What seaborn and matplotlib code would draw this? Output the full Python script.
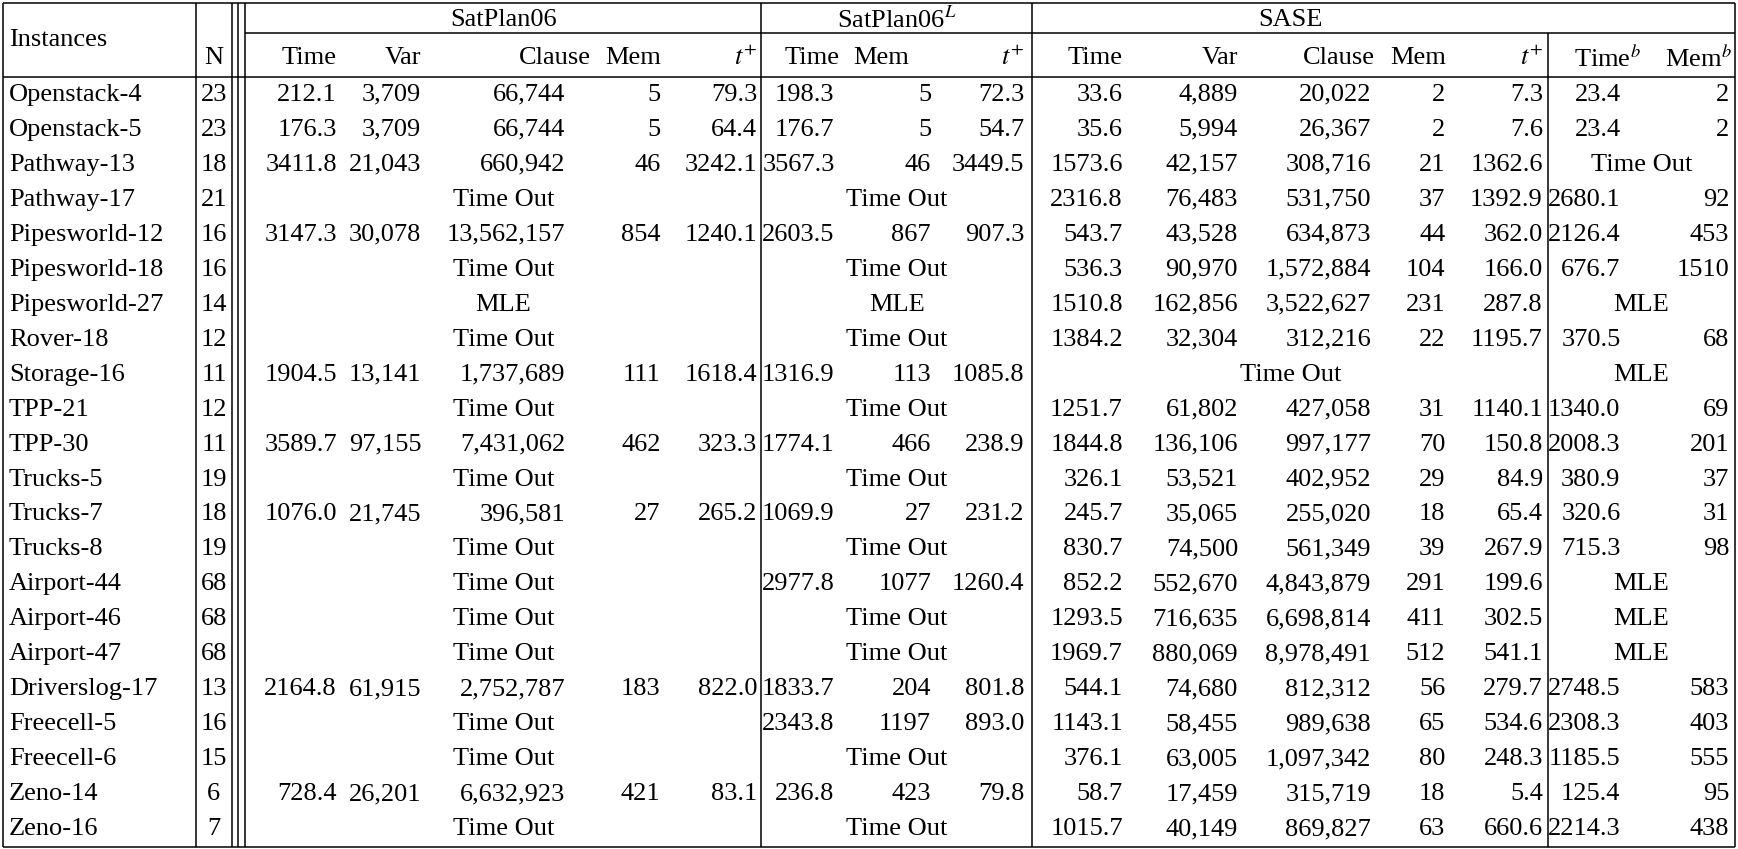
import matplotlib
matplotlib.use("Agg")
import matplotlib.pyplot as plt
import seaborn as sns

sns.set_theme(style="white")
plt.rcParams['font.family'] = ['Liberation Serif', 'DejaVu Serif']
plt.rcParams['mathtext.fontset'] = 'stix'

################################################
## table data (a string means a spanning cell)
instances = ['Openstack-4', 'Openstack-5', 'Pathway-13', 'Pathway-17', 'Pipesworld-12',
             'Pipesworld-18', 'Pipesworld-27', 'Rover-18', 'Storage-16', 'TPP-21', 'TPP-30',
             'Trucks-5', 'Trucks-7', 'Trucks-8', 'Airport-44', 'Airport-46', 'Airport-47',
             'Driverslog-17', 'Freecell-5', 'Freecell-6', 'Zeno-14', 'Zeno-16']
n_vals = ['23', '23', '18', '21', '16', '16', '14', '12', '11', '12', '11',
          '19', '18', '19', '68', '68', '68', '13', '16', '15', '6', '7']

satplan = [
    ('212.1', '3,709', '66,744', '5', '79.3'),
    ('176.3', '3,709', '66,744', '5', '64.4'),
    ('3411.8', '21,043', '660,942', '46', '3242.1'),
    'Time Out',
    ('3147.3', '30,078', '13,562,157', '854', '1240.1'),
    'Time Out', 'MLE', 'Time Out',
    ('1904.5', '13,141', '1,737,689', '111', '1618.4'),
    'Time Out',
    ('3589.7', '97,155', '7,431,062', '462', '323.3'),
    'Time Out',
    ('1076.0', '21,745', '396,581', '27', '265.2'),
    'Time Out', 'Time Out', 'Time Out', 'Time Out',
    ('2164.8', '61,915', '2,752,787', '183', '822.0'),
    'Time Out', 'Time Out',
    ('728.4', '26,201', '6,632,923', '421', '83.1'),
    'Time Out',
]
satplan_l = [
    ('198.3', '5', '72.3'), ('176.7', '5', '54.7'), ('3567.3', '46', '3449.5'),
    'Time Out', ('2603.5', '867', '907.3'), 'Time Out', 'MLE', 'Time Out',
    ('1316.9', '113', '1085.8'), 'Time Out', ('1774.1', '466', '238.9'), 'Time Out',
    ('1069.9', '27', '231.2'), 'Time Out', ('2977.8', '1077', '1260.4'), 'Time Out',
    'Time Out', ('1833.7', '204', '801.8'), ('2343.8', '1197', '893.0'), 'Time Out',
    ('236.8', '423', '79.8'), 'Time Out',
]
sase = [
    ('33.6', '4,889', '20,022', '2', '7.3'),
    ('35.6', '5,994', '26,367', '2', '7.6'),
    ('1573.6', '42,157', '308,716', '21', '1362.6'),
    ('2316.8', '76,483', '531,750', '37', '1392.9'),
    ('543.7', '43,528', '634,873', '44', '362.0'),
    ('536.3', '90,970', '1,572,884', '104', '166.0'),
    ('1510.8', '162,856', '3,522,627', '231', '287.8'),
    ('1384.2', '32,304', '312,216', '22', '1195.7'),
    'Time Out',
    ('1251.7', '61,802', '427,058', '31', '1140.1'),
    ('1844.8', '136,106', '997,177', '70', '150.8'),
    ('326.1', '53,521', '402,952', '29', '84.9'),
    ('245.7', '35,065', '255,020', '18', '65.4'),
    ('830.7', '74,500', '561,349', '39', '267.9'),
    ('852.2', '552,670', '4,843,879', '291', '199.6'),
    ('1293.5', '716,635', '6,698,814', '411', '302.5'),
    ('1969.7', '880,069', '8,978,491', '512', '541.1'),
    ('544.1', '74,680', '812,312', '56', '279.7'),
    ('1143.1', '58,455', '989,638', '65', '534.6'),
    ('376.1', '63,005', '1,097,342', '80', '248.3'),
    ('58.7', '17,459', '315,719', '18', '5.4'),
    ('1015.7', '40,149', '869,827', '63', '660.6'),
]
sase_b = [
    ('23.4', '2'), ('23.4', '2'), 'Time Out', ('2680.1', '92'), ('2126.4', '453'),
    ('676.7', '1510'), 'MLE', ('370.5', '68'), 'MLE', ('1340.0', '69'), ('2008.3', '201'),
    ('380.9', '37'), ('320.6', '31'), ('715.3', '98'), 'MLE', 'MLE', 'MLE',
    ('2748.5', '583'), ('2308.3', '403'), ('1185.5', '555'), ('125.4', '95'), ('2214.3', '438'),
]

################################################
## layout (in reference pixel units)
W, H = 1568, 735
fig = plt.figure(figsize=(17.38, 8.49), dpi=100)
ax = fig.add_axes([0, 0, 1, 1])
ax.set_xlim(0, W)
ax.set_ylim(H, 0)
ax.axis('off')
fs = 19

top, bot, left, right = 3, 733, 3, 1565
h1, h2 = 29, 67
rh = (bot - h2) / len(instances)

def line(x0, y0, x1, y1):
    ax.plot([x0, x1], [y0, y1], color='black', lw=1.1, solid_capstyle='butt')

line(left, top, right, top)
line(left, bot, right, bot)
line(221, h1, right, h1)
line(left, h2, right, h2)
for x in [left, 177, 209, 215, 221, 687, 931, right]:
    line(x, top, x, bot)
line(1397, h1, 1397, bot)

def txt(x, y, s, ha='right'):
    ax.text(x, y, s, ha=ha, va='center', fontsize=fs, color='black')

# headers
txt(8, 35, 'Instances', 'left')
txt(193, 50, 'N', 'center')
txt(454, 17, 'SatPlan06', 'center')
txt(809, 17, 'SatPlan06$^{L}$', 'center')
txt(1164, 17, 'SASE', 'center')
hy = 50
for x, s in [(304, 'Time'), (380, 'Var'), (533, 'Clause'), (596, 'Mem'), (683, '$t^{+}$'),
             (757, 'Time'), (820, 'Mem'), (924, '$t^{+}$'),
             (1013, 'Time'), (1117, 'Var'), (1240, 'Clause'), (1305, 'Mem'), (1392, '$t^{+}$'),
             (1480, 'Time$^{b}$'), (1562, 'Mem$^{b}$')]:
    txt(x, hy, s)

sp_x = [304, 380, 510, 596, 683]
spl_x = [753, 840, 924]
sase_x = [1013, 1117, 1237, 1304, 1392]
sb_x = [1462, 1560]

for i, name in enumerate(instances):
    y = h2 + rh * (i + 0.5)
    txt(8, y, name, 'left')
    txt(193, y, n_vals[i], 'center')
    for cells, xs, cx in [(satplan[i], sp_x, 454), (satplan_l[i], spl_x, 809),
                          (sase[i], sase_x, 1164), (sase_b[i], sb_x, 1481)]:
        if isinstance(cells, str):
            txt(cx, y, cells, 'center')
        else:
            for x, s in zip(xs, cells):
                txt(x, y, s)

fig.savefig('out.png', dpi=100, facecolor='white')
